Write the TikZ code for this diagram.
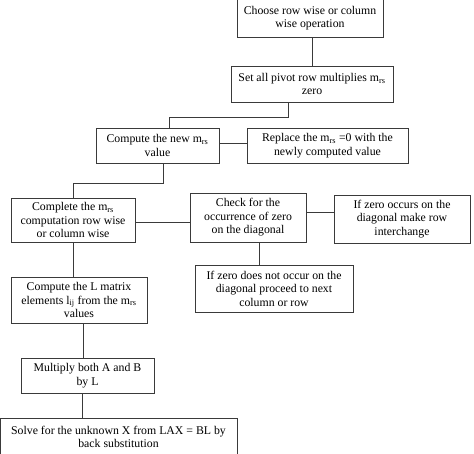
\documentclass[tikz,border=0pt]{standalone}
\usepackage{fontspec}
\setmainfont{Liberation Serif}
\begin{document}
\begin{tikzpicture}[x=1pt,y=-1pt,
  box/.style={draw=linegray, line width=0.9pt, inner sep=0pt, align=center,
    font=\fontsize{11.8}{13.5}\selectfont, text=black},
  conn/.style={draw=linegray, line width=0.9pt}]
\definecolor{linegray}{HTML}{3A3A3A}
\useasboundingbox (0,0) rectangle (474,453);
\clip (0,0) rectangle (474,453);
\fill[white] (0,0) rectangle (474,453);
% boxes
\node[box, minimum width=146, minimum height=38] (n1) at (310,18) {Choose row wise or column\\wise operation};
\node[box, minimum width=162, minimum height=36] (n2) at (312,84) {Set all pivot row multiplies m\textsubscript{rs}\\zero};
\node[box, minimum width=123, minimum height=35] (n3) at (157.5,145.5) {Compute the new m\textsubscript{rs}\\value};
\node[box, minimum width=161, minimum height=35] (n4) at (327.5,145.5) {Replace the m\textsubscript{rs} =0 with the\\newly computed value};
\node[box, minimum width=124, minimum height=44] (n5) at (73,220) {Complete the m\textsubscript{rs}\\computation row wise\\or column wise};
\node[box, minimum width=116, minimum height=49] (n6) at (248,217.5) {Check for the\\occurrence of zero\\on the diagonal};
\node[box, minimum width=136, minimum height=48] (n7) at (402,219) {If zero occurs on the\\diagonal make row\\interchange};
\node[box, minimum width=158, minimum height=47] (n8) at (274,288.5) {If zero does not occur on the\\diagonal proceed to next\\column or row};
\node[box, minimum width=136, minimum height=46] (n9) at (79,300) {Compute the L matrix\\elements l\textsubscript{ij} from the m\textsubscript{rs}\\values};
\node[box, minimum width=133, minimum height=35] (n10) at (87.5,375.5) {Multiply both A and B\\by L};
\node[box, minimum width=237, minimum height=38] (n11) at (118.5,437) {Solve for the unknown X from LAX = BL by\\back substitution};
% junction coordinates
\coordinate (j23a) at (288,117);
\coordinate (j23b) at (169,117);
\coordinate (j35a) at (163,183);
\coordinate (j35b) at (73,183);
\coordinate (j68) at (259,0);
\coordinate (j59) at (73,0);
\coordinate (j910) at (83,0);
\coordinate (j1011) at (82,0);
\coordinate (y34) at (0,143);
\coordinate (y56) at (0,222);
\coordinate (y67) at (0,212);
% connectors
\draw[conn] (n1.south -| n2.north) -- (n2.north);
\draw[conn] (n2.south -| j23a) -- (j23a) -- (j23b) -- (n3.north -| j23b);
\draw[conn] (n3.south -| j35a) -- (j35a) -- (j35b) -- (n5.north -| j35b);
\draw[conn] (n3.east |- y34) -- (n4.west |- y34);
\draw[conn] (n5.east |- y56) -- (n6.west |- y56);
\draw[conn] (n6.east |- y67) -- (n7.west |- y67);
\draw[conn] (n6.south -| j68) -- (n8.north -| j68);
\draw[conn] (n5.south -| j59) -- (n9.north -| j59);
\draw[conn] (n9.south -| j910) -- (n10.north -| j910);
\draw[conn] (n10.south -| j1011) -- (n11.north -| j1011);
\end{tikzpicture}
\end{document}
